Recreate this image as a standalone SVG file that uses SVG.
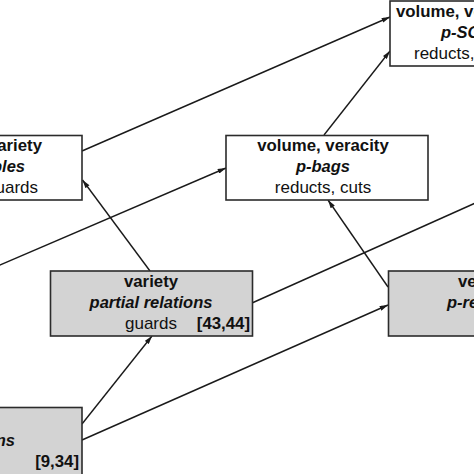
<svg xmlns="http://www.w3.org/2000/svg" width="474" height="474" viewBox="0 0 474 474">
<style>
.box{fill:#ffffff;stroke:#2b2b2b;stroke-width:1.6}
.gbox{fill:#d3d3d3;stroke:#2b2b2b;stroke-width:1.6}
text{font-family:"Liberation Sans",Arial,sans-serif;font-size:17px;fill:#111}
.b{font-weight:bold;font-size:16.8px}
.bi{font-weight:bold;font-style:italic;font-size:16.5px}
.c{text-anchor:middle}
.e{text-anchor:end}
.s{text-anchor:start}
.ln{stroke:#1a1a1a;stroke-width:1.4;fill:none}
</style>
<defs>
<marker id="ah" viewBox="0 0 10 6" refX="10" refY="3" markerWidth="9" markerHeight="5" markerUnits="userSpaceOnUse" orient="auto">
<path d="M0,0 L10,3 L0,6 z" fill="#1a1a1a"/>
</marker>
</defs>
<rect width="474" height="474" fill="#ffffff"/>
<g id="connectors">
<line class="ln" x1="82" y1="151" x2="390" y2="17" marker-end="url(#ah)"/>
<line class="ln" x1="324" y1="135" x2="390" y2="51" marker-end="url(#ah)"/>
<line class="ln" x1="-10" y1="269.3" x2="226" y2="168" marker-end="url(#ah)"/>
<line class="ln" x1="150" y1="271" x2="82.5" y2="180" marker-end="url(#ah)"/>
<line class="ln" x1="82" y1="424" x2="152" y2="336" marker-end="url(#ah)"/>
<line class="ln" x1="82" y1="440" x2="388" y2="305" marker-end="url(#ah)"/>
<line class="ln" x1="252" y1="303" x2="500" y2="192"/>
<line class="ln" x1="388" y1="287" x2="328" y2="200" marker-end="url(#ah)"/>
</g>
<g id="node-top-right">
<rect class="box" x="390" y="1" width="142" height="65"/>
<text class="b s" x="396" y="17">volume, veracity</text>
<text class="bi s" x="441" y="38">p-SC</text>
<text class="s" x="414" y="59">reducts, cuts</text>
</g>
<g id="node-top-left">
<rect class="box" x="-60" y="135.5" width="142" height="64.5"/>
<text class="b e" x="42" y="151">variety</text>
<text class="bi e" x="25" y="172">tuples</text>
<text class="e" x="38" y="193">guards</text>
</g>
<g id="node-p-bags">
<rect class="box" x="226" y="135.5" width="202" height="64.5"/>
<text class="b c" x="323" y="151">volume, veracity</text>
<text class="bi c" x="323" y="172">p-bags</text>
<text class="c" x="323" y="193">reducts, cuts</text>
</g>
<g id="node-partial-relations">
<rect class="gbox" x="50.5" y="271" width="202" height="65"/>
<text class="b c" x="151" y="287">variety</text>
<text class="bi c" x="151" y="308">partial relations</text>
<text class="c" x="151" y="329">guards</text>
<text class="b e" x="250" y="329">[43,44]</text>
</g>
<g id="node-right">
<rect class="gbox" x="388.5" y="271" width="202" height="65"/>
<text class="b s" x="458" y="287">veracity</text>
<text class="bi s" x="447" y="308">p-relations</text>
</g>
<g id="node-bottom-left">
<rect class="gbox" x="-120" y="407.5" width="202" height="80"/>
<text class="bi e" x="15" y="446">relations</text>
<text class="b e" x="79" y="467">[9,34]</text>
</g>
</svg>
